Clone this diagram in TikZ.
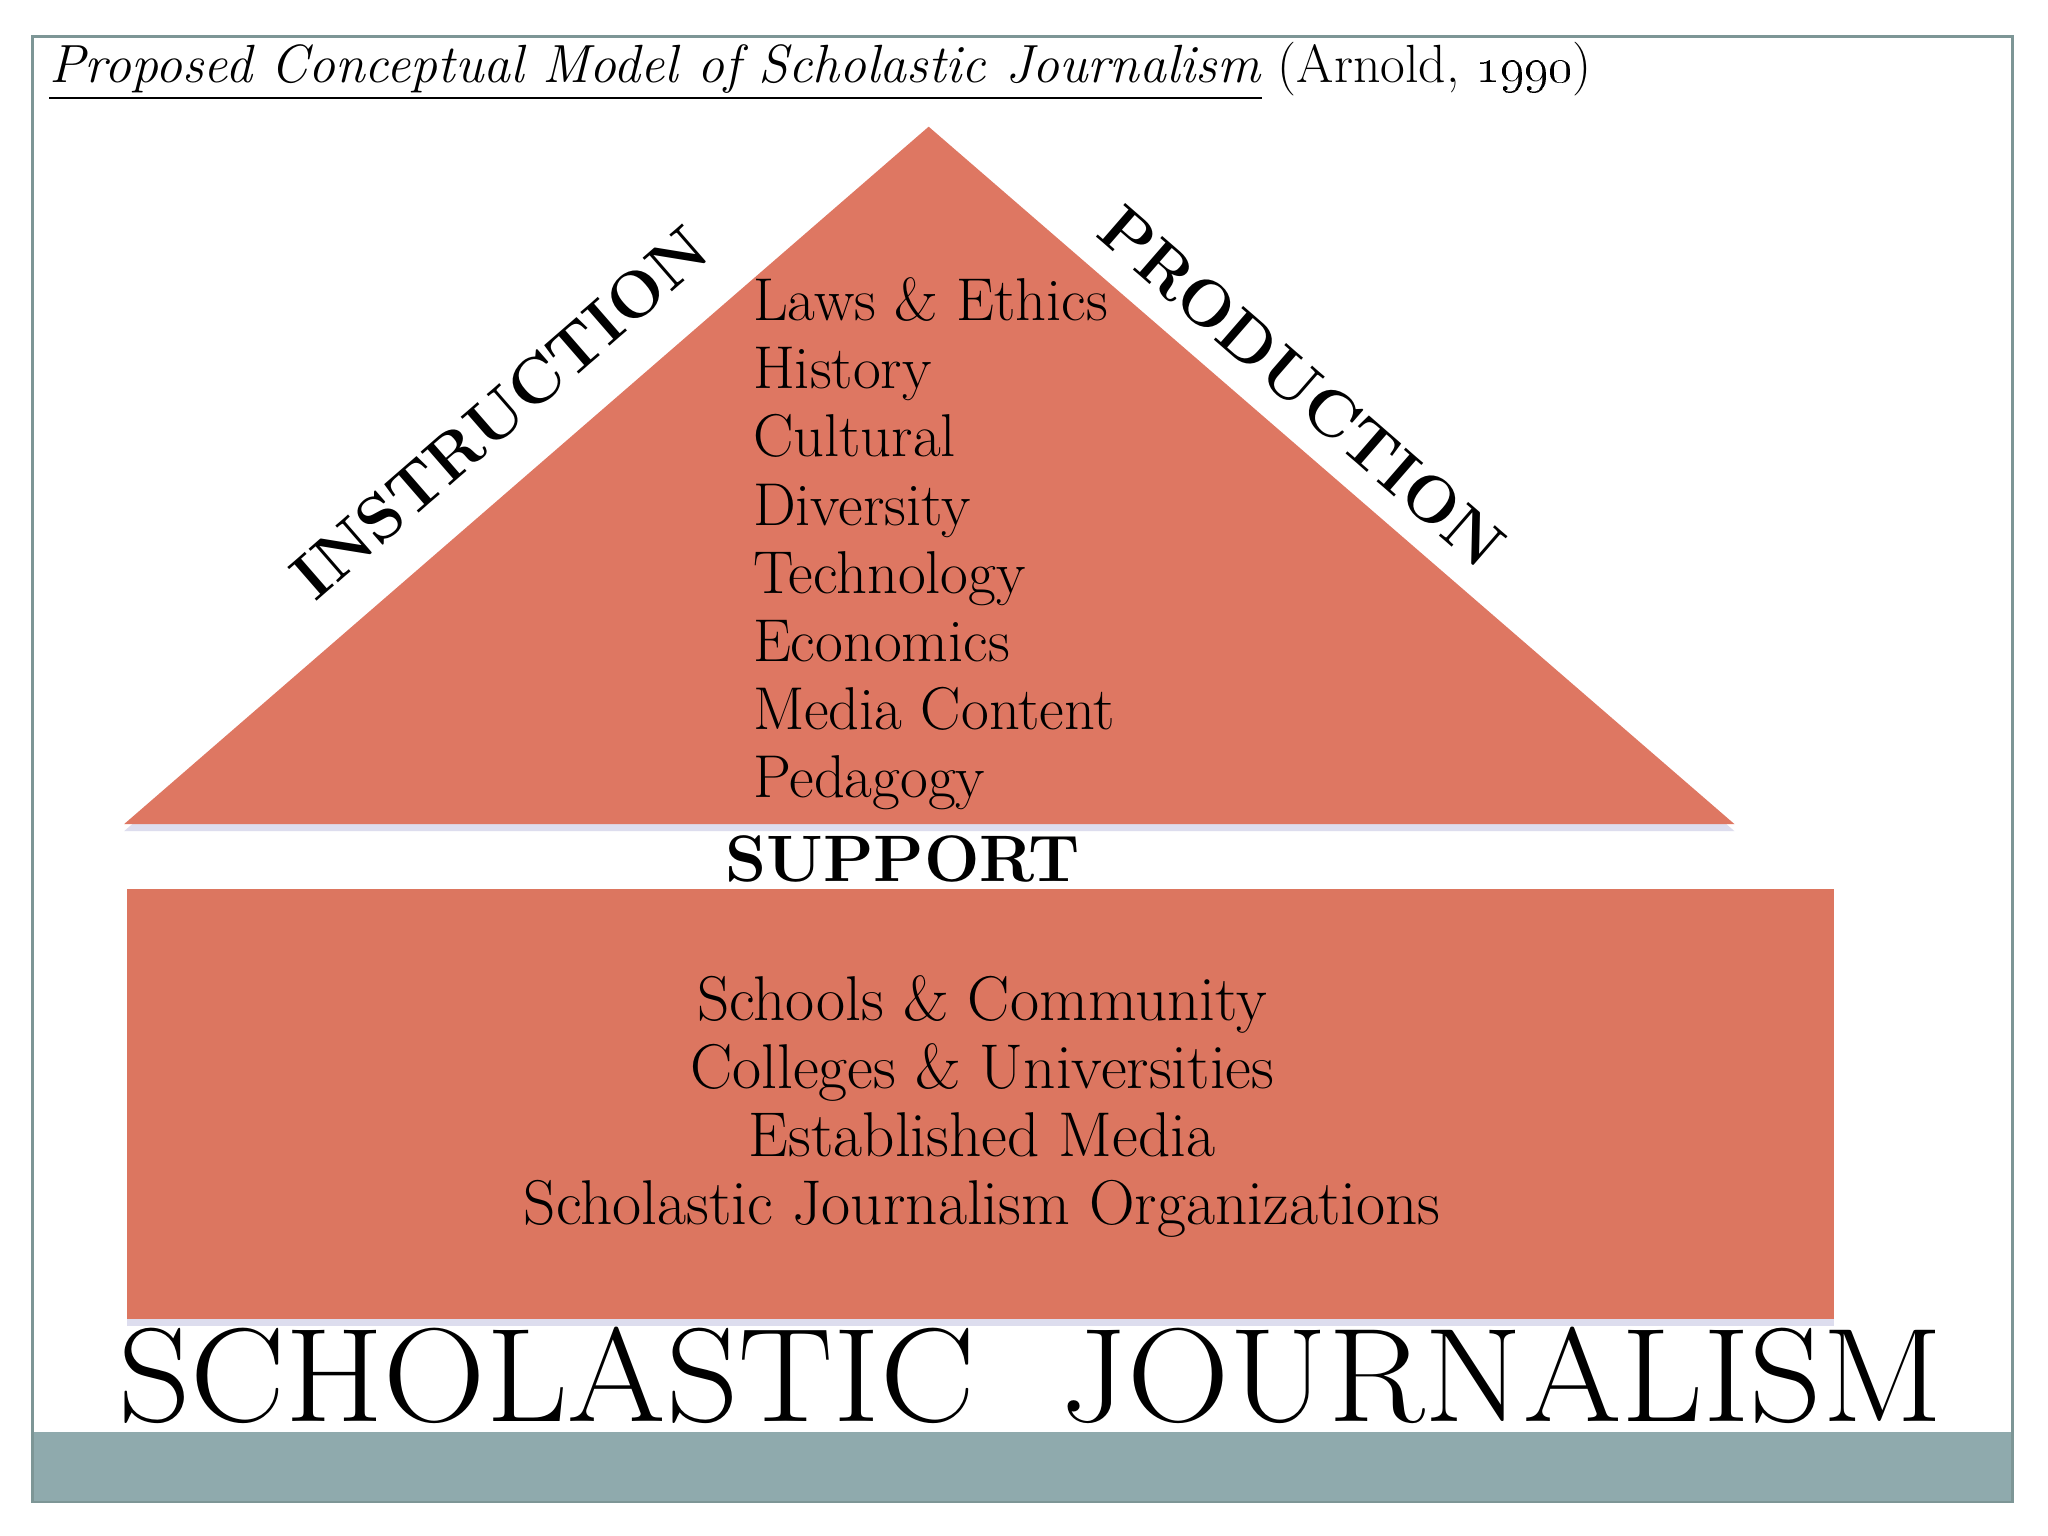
\documentclass[tikz,border=0pt]{standalone}
\usepackage{tikz}
\usetikzlibrary{shadows}
\definecolor{roofred}{RGB}{222,119,98}
\definecolor{basered}{RGB}{220,118,96}
\definecolor{bargray}{RGB}{143,170,173}
\definecolor{framegray}{RGB}{125,150,150}

\begin{document}
\begin{tikzpicture}[x=0.01306cm,y=-0.01306cm,
    listtext/.style={font=\fontsize{17.2}{19.4}\selectfont, inner sep=0pt},
    sidelabel/.style={font=\fontsize{18.5}{20}\selectfont\bfseries, inner sep=0pt},
    soft shadow/.style={drop shadow={shadow xshift=0pt,shadow yshift=-2pt,opacity=0.22,fill=black!50!blue!60}}]

    % Page, frame and bottom bar
    \useasboundingbox (0,0) rectangle (1568,1176);
    \fill[white] (0,0) rectangle (1568,1176);
    \fill[bargray] (25,1096) rectangle (1541,1150);
    \draw[framegray, line width=0.8pt] (25,28) rectangle (1541,1150);

    % Title
    \node[anchor=base west, inner sep=0pt, font=\fontsize{15.3}{17}\selectfont] (title) at (37,63)
      {\underline{\textit{Proposed Conceptual Model of Scholastic Journalism}} (Arnold, \oldstylenums{1990})};

    % The roof
    \coordinate (apex) at (711,97);
    \coordinate (left) at (95,631);
    \coordinate (right) at (1328,631);
    \fill[roofred, soft shadow] (left) -- (apex) -- (right) -- cycle;
    \node[sidelabel, rotate=41] (instruction) at (383,316) {INSTRUCTION};
    \node[sidelabel, rotate=-41] (production) at (997,296) {PRODUCTION};
    \node[listtext, anchor=north west, align=left] (topics) at (576,212)
      {Laws \& Ethics\\History\\Cultural\\Diversity\\Technology\\Economics\\Media Content\\Pedagogy};

    % The base
    \node[font=\fontsize{18.7}{20}\selectfont\bfseries, inner sep=0pt, anchor=base] (support) at (691,675) {SUPPORT};
    \fill[basered, soft shadow] (97,681) rectangle (1404,1010);
    \node[listtext, font=\fontsize{18}{19.4}\selectfont, align=center] (supporters) at (752,847)
      {Schools \& Community\\Colleges \& Universities\\Established Media\\Scholastic Journalism Organizations};

    % Ground line
    \node[font=\fontsize{38}{40}\selectfont, inner sep=0pt, anchor=base, xscale=1.063] (field) at (789,1088)
      {SCHOLASTIC\ \ JOURNALISM};
\end{tikzpicture}
\end{document}
